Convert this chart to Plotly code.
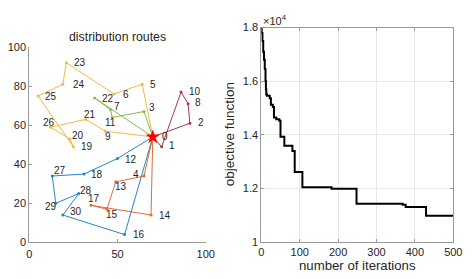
import plotly.graph_objects as go

# ---------------- data ----------------
# customer / depot coordinates (node 0 = depot)
node_x = [70, 75, 91, 65, 65, 64, 48, 46, 90, 43, 86, 47, 50, 49, 69, 44, 54, 35, 31, 25, 23, 32, 37, 21, 19, 5, 12, 13, 28, 15, 19]
node_y = [54, 49, 61, 67, 34, 81, 76, 68, 71, 57, 77, 64, 43, 31, 14, 17, 4, 19, 35, 49, 53, 63, 74, 92, 81, 75, 59, 34, 25, 20, 14]

route_yellow = [0, 9, 21, 26, 20, 19, 25, 24, 23, 6, 5, 0]
route_green = [0, 3, 11, 7, 22, 0]
route_red = [0, 2, 8, 10, 1, 0]
route_blue = [0, 12, 18, 27, 29, 28, 30, 16, 0]
route_orange = [0, 4, 13, 15, 17, 14, 0]

# convergence curve (objective value at change points)
iterations = [0, 1, 3, 5, 7, 9, 11, 12, 13, 15, 22, 25, 30, 33, 39, 47, 50, 60, 81, 87, 107, 183, 248, 368, 376, 429, 500]
objective = [17980, 17800, 17500, 17100, 16800, 16450, 16000, 15700, 15500, 15450, 15360, 15120, 15030, 14640,
             14580, 14520, 13920, 13590, 13390, 12610, 12040, 11980, 11420, 11390, 11300, 10980, 10980]

# ---------------- styles ----------------
ROUTE_COLORS = ["#EDB120", "#77AC30", "#A2142F", "#0072BD", "#D95319"]
FONT = "Liberation Sans, Arial, sans-serif"
TXT = "#262626"
AX = "#9a9a9a"
W, H = 474, 279

# label pixel shifts (dx right, dy down) relative to node
LABEL_SHIFT = {
    0: (11.7, 0), 1: (10.4, -1), 2: (11, -0.7), 3: (7.7, -3.7), 4: (-7.6, -1.6), 5: (10.7, 0),
    6: (11.7, 0), 7: (6.7, -3.3), 8: (10, -1), 9: (3, 5), 10: (14.4, -0.7), 11: (-1.7, 5.4),
    12: (13.7, 0.7), 13: (5.7, 4.3), 14: (14, 0.6), 15: (5.4, 5), 16: (14, 0), 17: (3.3, -6.6),
    18: (13.3, 0.7), 19: (14, 0), 20: (8.4, -3.3), 21: (4, -5), 22: (13.7, 1), 23: (14, 0),
    24: (16.3, 0.7), 25: (13.3, 0.7), 26: (-1.6, -4.3), 27: (7.3, -6), 28: (7.3, -3.3),
    29: (-4.3, 3.3), 30: (13.3, -4),
}

fig = go.Figure()

routes = [route_yellow, route_green, route_red, route_blue, route_orange]
for r, c in zip(routes, ROUTE_COLORS):
    fig.add_trace(go.Scatter(
        x=[node_x[i] for i in r], y=[node_y[i] for i in r],
        mode="lines+markers", line=dict(color=c, width=1), opacity=0.85,
        marker=dict(size=3, color=c), xaxis="x", yaxis="y", showlegend=False,
        hoverinfo="skip"))

fig.add_trace(go.Scatter(
    x=[node_x[0]], y=[node_y[0]], mode="markers",
    marker=dict(symbol="star", size=11, color="#ff0000", line=dict(width=0)),
    xaxis="x", yaxis="y", showlegend=False))

fig.add_trace(go.Scatter(
    x=iterations, y=objective, mode="lines", line=dict(color="black", width=2, shape="hv"),
    xaxis="x2", yaxis="y2", showlegend=False))

annotations = []
for i, (x, y) in enumerate(zip(node_x, node_y)):
    dx, dy = LABEL_SHIFT[i]
    annotations.append(dict(
        x=x, y=y, xref="x", yref="y", text=str(i), showarrow=False,
        xshift=dx, yshift=-dy, xanchor="center", yanchor="middle",
        font=dict(family=FONT, size=10, color=TXT)))

annotations += [
    dict(x=117.5 / W, y=1 - 32 / H, xref="paper", yref="paper", text="distribution routes",
         showarrow=False, xanchor="center", yanchor="middle",
         font=dict(family=FONT, size=12.3, color=TXT)),
    dict(x=364 / W, y=1 - 271.5 / H, xref="paper", yref="paper", text="number of iterations",
         showarrow=False, xanchor="center", yanchor="middle",
         font=dict(family=FONT, size=13.2, color=TXT)),
    dict(x=232.5 / W, y=1 - 134.5 / H, xref="paper", yref="paper", text="objective function",
         showarrow=False, xanchor="center", yanchor="middle", textangle=-90,
         font=dict(family=FONT, size=13.5, color=TXT)),
    dict(x=265 / W, y=1 - 15 / H, xref="paper", yref="paper", text="×10<sup>4</sup>",
         showarrow=False, xanchor="left", yanchor="middle",
         font=dict(family=FONT, size=11, color=TXT)),
]

common = dict(showline=True, linecolor=AX, linewidth=1, ticks="inside", ticklen=3,
              tickcolor=AX, zeroline=False, tickfont=dict(family=FONT, size=11, color=TXT))

fig.update_layout(
    width=W, height=H, margin=dict(l=0, r=0, t=0, b=0),
    paper_bgcolor="white", plot_bgcolor="white",
    xaxis=dict(domain=[27 / W, 208 / W], range=[0, 100], tickvals=[0, 50, 100],
               showgrid=False, anchor="y", ticklabelstandoff=1, **common),
    yaxis=dict(domain=[1 - 247 / H, 1 - 43 / H], range=[0, 100],
               tickvals=[0, 20, 40, 60, 80, 100], showgrid=False, anchor="x", **common),
    xaxis2=dict(domain=[265 / W, 462 / W], range=[0, 500], tickvals=[0, 100, 200, 300, 400, 500],
                showgrid=True, gridcolor="#e8e8e8", mirror="ticks", anchor="y2",
                ticklabelstandoff=0, **common),
    yaxis2=dict(domain=[1 - 246.5 / H, 1 - 22.5 / H], range=[10000, 18000],
                tickvals=[10000, 12000, 14000, 16000, 18000],
                ticktext=["1", "1.2", "1.4", "1.6", "1.8"],
                showgrid=True, gridcolor="#e8e8e8", mirror="ticks", anchor="x2", **common),
    annotations=annotations,
)

fig.write_html("out.html")
